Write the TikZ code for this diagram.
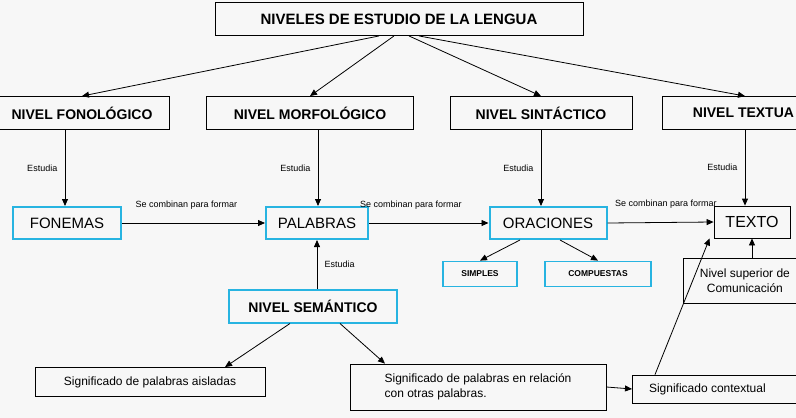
\documentclass[tikz,border=0pt]{standalone}
\usepackage{fontspec}
\setmainfont{Liberation Sans}
\usetikzlibrary{arrows.meta}
\definecolor{cy}{RGB}{40,180,225}
\begin{document}
\begin{tikzpicture}[x=1pt,y=-1pt,
  box/.style={draw,line width=0.9pt,minimum height=33pt,inner sep=0pt,font=\fontsize{14}{16}\selectfont\bfseries},
  cbox/.style={draw=cy,line width=2pt,minimum height=32pt,inner sep=0pt,font=\fontsize{15}{17}\selectfont},
  sbox/.style={draw,line width=0.8pt,inner sep=0pt,font=\fontsize{12}{15}\selectfont},
  lab/.style={font=\fontsize{9}{11}\selectfont},
  arr/.style={-{Triangle[length=7pt,width=6pt]},line width=0.8pt}]
\fill[gray!6] (0,0) rectangle (796,418);
\useasboundingbox (0,0) rectangle (796,418);
\node[box,minimum width=368pt,font=\fontsize{15}{17}\selectfont\bfseries] (title) at (399,19) {NIVELES DE ESTUDIO DE LA LENGUA};
\node[box,minimum width=175pt] (fon) at (82,113) {NIVEL FONOLÓGICO};
\node[box,minimum width=207pt] (mor) at (310,113) {NIVEL MORFOLÓGICO};
\node[box,minimum width=182pt] (sin) at (541,113) {NIVEL SINTÁCTICO};
\node[box,minimum width=138pt,anchor=west] (tex) at (662,113) {\hspace*{12pt}NIVEL TEXTUA\hspace*{-12pt}};
\node[cbox,minimum width=108pt] (fonemas) at (67,223) {FONEMAS};
\node[cbox,minimum width=102pt] (pal) at (317,223) {PALABRAS};
\node[cbox,minimum width=117pt] (ora) at (548,223) {ORACIONES};
\node[sbox,minimum width=76pt,minimum height=32pt,font=\fontsize{16}{18}\selectfont] (texto) at (752,222) {TEXTO};
\node[cbox,line width=1.8pt,minimum width=74pt,minimum height=25pt,font=\fontsize{8.5}{10}\selectfont\bfseries] (simp) at (480,274) {SIMPLES};
\node[cbox,line width=1.8pt,minimum width=106pt,minimum height=25pt,font=\fontsize{8.5}{10}\selectfont\bfseries] (comp) at (598,274) {COMPUESTAS};
\node[sbox,minimum width=117pt,minimum height=45pt,anchor=west,align=center] (sup) at (683,281) {\hspace*{6pt}Nivel superior de\\\hspace*{6pt}Comunicación};
\node[cbox,minimum width=168pt,minimum height=33pt,font=\fontsize{14}{16}\selectfont\bfseries] (sem) at (313,306) {NIVEL SEMÁNTICO};
\node[sbox,minimum width=230pt,minimum height=29pt] (ais) at (150,382) {Significado de palabras aisladas};
\node[sbox,minimum width=256pt,minimum height=46pt,align=left] (rel) at (478,387) {Significado de palabras en relación\\con otras palabras.};
\node[sbox,minimum width=164pt,minimum height=28pt,anchor=west] (ctx) at (632,389) {\hspace*{-14pt}Significado contextual};
% title arrows
\draw[arr] (title.south) ++(-20,0) coordinate (t1) -- (fon.north);
\draw[arr] (t1) ++(15,0) coordinate (t2) -- (mor.north);
\draw[arr] (title.south) ++(10,0) coordinate (t3) -- (sin.north);
\draw[arr] (t3) ++(10,0) coordinate (t4) -- (tex.north -| 745,0);
% estudia
\draw[arr] (fon.south -| 65,0) -- (fonemas.north -| 65,0) node[lab,midway,left=4pt] {Estudia};
\draw[arr] (mor.south -| 318,0) -- (pal.north -| 318,0) node[lab,midway,left=4pt] {Estudia};
\draw[arr] (sin.south -| 541,0) -- (ora.north -| 541,0) node[lab,midway,left=4pt] {Estudia};
\draw[arr] (tex.south -| 745,0) -- (texto.north -| 745,0) node[lab,midway,left=4pt] {Estudia};
% combinan
\draw[arr] (fonemas.east) -- (pal.west) node[lab,pos=0.45,above=10pt] {Se combinan para formar};
\draw[arr] (pal.east) -- (ora.west) node[lab,pos=0.35,above=10pt] {Se combinan para formar};
\draw[arr] (ora.east) -- (texto.west) node[lab,pos=0.55,above=10pt] {Se combinan para formar};
% oraciones
\draw[arr] (ora.south -| 520,0) -- (simp.north);
\draw[arr] (ora.south -| 560,0) -- (comp.north);
% semantic
\draw[arr] (sem.north -| 317,0) -- (pal.south) node[lab,midway,right=4pt] {Estudia};
\draw[arr] (sem.south -| 290,0) -- (ais.north -| 225,0);
\draw[arr] (sem.south -| 340,0) -- (rel.north -| 385,0);
\draw[arr] (rel.east) -- (ctx.west);
\draw[arr] (ctx.north -| 655,0) -- ([xshift=-4pt]texto.south west);
\draw[arr] (sup.north -| 752,0) -- (texto.south);
\end{tikzpicture}
\end{document}
